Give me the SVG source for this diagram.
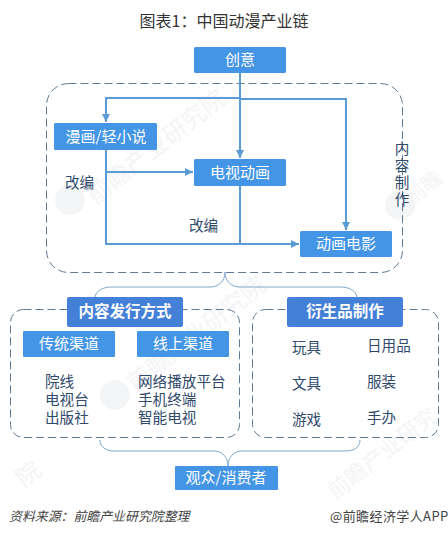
<svg xmlns="http://www.w3.org/2000/svg" width="448" height="535" viewBox="0 0 448 535">
<style>
text{font-family:"Noto Sans CJK SC","Liberation Sans",sans-serif}
.b{fill:#4495e6}
.h{fill:#4480d8}
.w{fill:#fff;font-size:15px;text-anchor:middle}
.hw{fill:#fff;font-size:15.5px;font-weight:700;text-anchor:middle}
.d{fill:#2f4a6b;font-size:14.6px}
.dash{fill:none;stroke:#5d7a96;stroke-width:1;stroke-dasharray:8 4}
.c{fill:none;stroke:#5b9bd5;stroke-width:2}
.br{fill:none;stroke:#7fa8cc;stroke-width:1}
.wm{fill:#f3f4f6;font-size:24px}
.lg{fill:#f4f5f7}
</style>
<defs>
<marker id="a" markerWidth="10" markerHeight="10" refX="8" refY="4" orient="auto" markerUnits="userSpaceOnUse"><path d="M0 0L8 4L0 8Z" fill="#5b9bd5"/></marker>
</defs>
<rect width="448" height="535" fill="#fff"/>
<g id="watermark">
<text class="wm" transform="translate(95 205) rotate(-38)">前瞻产业研究院</text>
<text class="wm" transform="translate(135 392) rotate(-38)">前瞻产业研究院</text>
<text class="wm" transform="translate(335 500) rotate(-38)" style="font-size:22px">前瞻产业研究</text>
<text class="wm" transform="translate(412 205) rotate(-38)" style="font-size:20px">前瞻</text>
<text class="wm" transform="translate(24 488) rotate(-38)">院</text>
<circle class="lg" cx="70" cy="200" r="15"/>
<circle class="lg" cx="400" cy="205" r="15"/>
<circle class="lg" cx="115" cy="395" r="15"/>
</g>
<text id="title" x="224" y="27" font-size="16" fill="#333" text-anchor="middle">图表1：中国动漫产业链</text>
<g id="container-content"><rect class="dash" x="46.5" y="83.5" width="356" height="189" rx="22"/></g>
<g id="container-release"><rect class="dash" x="10.5" y="309.5" width="229" height="128" rx="13"/></g>
<g id="container-derivative"><rect class="dash" x="252.5" y="309.5" width="186" height="128" rx="13"/></g>
<g id="connectors">
<path class="c" d="M240 73V98" />
<path class="c" d="M240 98H106V122" marker-end="url(#a)"/>
<path class="c" d="M240 98V158" marker-end="url(#a)"/>
<path class="c" d="M240 99H346V230" marker-end="url(#a)"/>
<path class="c" d="M106 150V244H299" marker-end="url(#a)"/>
<path class="c" d="M106 172H193" marker-end="url(#a)"/>
<path class="c" d="M240 186V244"/>
<path class="br" d="M225 272C225 282 218 287 210 287H112C102 287 96 291 95 297"/>
<path class="br" d="M225 272C225 282 232 287 240 287H340C350 287 356 291 357 297"/>
<path class="br" d="M100 440C100 447 106 451 114 451H214C222 451 228 457 228 466"/>
<path class="br" d="M360 440C360 447 354 451 346 451H242C234 451 228 457 228 466"/>
</g>
<g id="n-idea"><rect class="b" x="194" y="47" width="92" height="26" rx="1.5"/><text class="w" x="240" y="65">创意</text></g>
<g id="n-comic"><rect class="b" x="54" y="123" width="103" height="27" rx="1.5"/><text class="w" x="106" y="142">漫画/轻小说</text></g>
<g id="n-tv"><rect class="b" x="194" y="159" width="92" height="27" rx="1.5"/><text class="w" x="240" y="178">电视动画</text></g>
<g id="n-movie"><rect class="b" x="300" y="231" width="92" height="26" rx="1.5"/><text class="w" x="346" y="249">动画电影</text></g>
<g id="l-adapt1"><text class="d" x="65" y="188">改编</text></g>
<g id="l-adapt2"><text class="d" x="189" y="231">改编</text></g>
<g id="l-content"><text class="d" x="402" y="141" writing-mode="vertical-rl" letter-spacing="2.6">内容制作</text></g>
<g id="n-release"><rect class="h" x="67" y="297" width="116" height="30" rx="2"/><text class="hw" x="125" y="317">内容发行方式</text></g>
<g id="n-derivative"><rect class="h" x="287" y="297" width="116" height="30" rx="2"/><text class="hw" x="345" y="317">衍生品制作</text></g>
<g id="n-traditional"><rect class="b" x="23" y="331" width="92" height="26" rx="1"/><text class="w" x="69" y="349">传统渠道</text></g>
<g id="n-online"><rect class="b" x="137" y="331" width="92" height="26" rx="1"/><text class="w" x="183" y="349">线上渠道</text></g>
<g id="list-traditional"><text class="d"><tspan x="45" y="387">院线</tspan><tspan x="45" y="405">电视台</tspan><tspan x="45" y="423">出版社</tspan></text></g>
<g id="list-online"><text class="d"><tspan x="138" y="387">网络播放平台</tspan><tspan x="138" y="405">手机终端</tspan><tspan x="138" y="423">智能电视</tspan></text></g>
<g id="list-derivative">
<text class="d" x="292" y="353">玩具</text><text class="d" x="367" y="351">日用品</text>
<text class="d" x="292" y="389">文具</text><text class="d" x="367" y="387">服装</text>
<text class="d" x="292" y="425">游戏</text><text class="d" x="367" y="423">手办</text>
</g>
<g id="n-audience"><rect class="b" x="175" y="466" width="103" height="24" rx="1"/><text class="w" x="226" y="483">观众/消费者</text></g>
<text id="source" x="9" y="521" font-size="12.9" font-style="italic" fill="#444">资料来源：前瞻产业研究院整理</text>
<text id="credit" x="330" y="521" font-size="13" fill="#444" letter-spacing="0.4">@前瞻经济学人APP</text>
</svg>
